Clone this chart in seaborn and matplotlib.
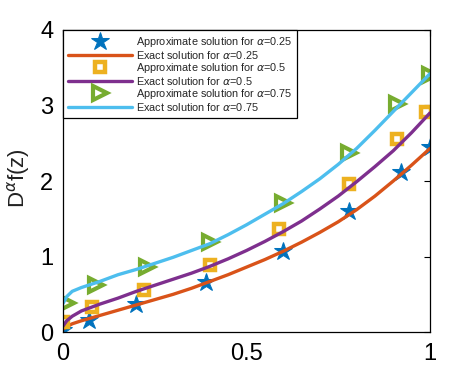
import matplotlib
matplotlib.use("Agg")
import matplotlib.pyplot as plt
import seaborn as sns

# Approximate solution points (markers)
x_approx_025 = [0.0, 0.07, 0.20, 0.39, 0.60, 0.78, 0.92, 1.0]
y_approx_025 = [0.03, 0.16, 0.37, 0.66, 1.08, 1.60, 2.12, 2.45]
x_approx_05 = [0.0, 0.08, 0.22, 0.40, 0.59, 0.78, 0.91, 0.99]
y_approx_05 = [0.13, 0.33, 0.56, 0.89, 1.37, 1.96, 2.55, 2.91]
x_approx_075 = [0.01, 0.09, 0.23, 0.40, 0.60, 0.78, 0.91, 1.0]
y_approx_075 = [0.38, 0.63, 0.86, 1.19, 1.71, 2.37, 3.02, 3.40]

# Exact solution curves
x_exact = [0.0, 0.01, 0.025, 0.05, 0.1, 0.15, 0.2, 0.25, 0.3, 0.35, 0.4, 0.45,
           0.5, 0.55, 0.6, 0.65, 0.7, 0.75, 0.8, 0.85, 0.9, 0.95, 1.0]
y_exact_025 = [0.04, 0.07, 0.11, 0.15, 0.22, 0.29, 0.36, 0.43, 0.50, 0.58, 0.67, 0.76,
               0.86, 0.96, 1.07, 1.19, 1.32, 1.46, 1.62, 1.80, 2.00, 2.21, 2.43]
y_exact_05 = [0.08, 0.15, 0.21, 0.28, 0.37, 0.45, 0.54, 0.62, 0.70, 0.78, 0.87, 0.97,
              1.08, 1.20, 1.33, 1.47, 1.63, 1.80, 1.99, 2.19, 2.40, 2.64, 2.90]
y_exact_075 = [0.38, 0.47, 0.54, 0.59, 0.67, 0.76, 0.83, 0.91, 0.99, 1.08, 1.17, 1.29,
               1.42, 1.56, 1.70, 1.86, 2.03, 2.22, 2.43, 2.67, 2.92, 3.17, 3.42]

labels = [
    r"Approximate solution for $\alpha$=0.25",
    r"Exact solution for $\alpha$=0.25",
    r"Approximate solution for $\alpha$=0.5",
    r"Exact solution for $\alpha$=0.5",
    r"Approximate solution for $\alpha$=0.75",
    r"Exact solution for $\alpha$=0.75",
]

sns.set_theme(style="white")
plt.rcParams['font.family'] = ['Liberation Sans', 'DejaVu Sans']
plt.rcParams['mathtext.fontset'] = 'dejavusans'

fig = plt.figure(figsize=(4.74, 3.74), dpi=100)
ax = fig.add_axes([0.133, 0.112, 0.774, 0.808])

c_blue = "#0072BD"; c_orange = "#D95319"; c_yellow = "#EDB120"
c_purple = "#7E2F8E"; c_green = "#77AC30"; c_lblue = "#4DBEEE"
lw = 2.4

sns.lineplot(x=x_approx_025, y=y_approx_025, ax=ax, marker="*", linestyle="none",
             color=c_blue, markersize=13.5, markeredgecolor=c_blue, label=labels[0])
sns.lineplot(x=x_exact, y=y_exact_025, ax=ax, color=c_orange, linewidth=lw, label=labels[1])
sns.lineplot(x=x_approx_05, y=y_approx_05, ax=ax, marker="s", linestyle="none",
             color=c_yellow, markersize=6.5, markerfacecolor="none",
             markeredgecolor=c_yellow, markeredgewidth=3.2, label=labels[2])
sns.lineplot(x=x_exact, y=y_exact_05, ax=ax, color=c_purple, linewidth=lw, label=labels[3])
sns.lineplot(x=x_approx_075, y=y_approx_075, ax=ax, marker=">", linestyle="none",
             color=c_green, markersize=9.5, markerfacecolor="none",
             markeredgecolor=c_green, markeredgewidth=3.0, label=labels[4])
sns.lineplot(x=x_exact, y=y_exact_075, ax=ax, color=c_lblue, linewidth=lw, label=labels[5])

ax.set_xlim(0, 1)
ax.set_ylim(0, 4)
ax.set_xticks([0, 0.5, 1])
ax.set_xticklabels(["0", "0.5", "1"])
ax.set_yticks([0, 1, 2, 3, 4])
ax.tick_params(direction="in", length=4, width=0.8, colors="black", labelsize=17,
               top=True, right=True, pad=7)
ax.tick_params(axis="x", pad=8)
for s in ax.spines.values():
    s.set_visible(True)
    s.set_color("black")
    s.set_linewidth(0.9)

ax.set_xlabel("")
ax.set_ylabel(r"D$^{\alpha}$f(z)", fontsize=16, color="#222222")
ax.yaxis.set_label_coords(-0.085, 0.51)

leg = ax.legend(loc="upper left", borderaxespad=0, fontsize=7.8, handlelength=5.9,
                labelspacing=0.0, handletextpad=0.35, borderpad=0.45,
                frameon=True, fancybox=False, edgecolor="black", framealpha=1)
leg.get_frame().set_linewidth(0.9)

fig.savefig("out.png", dpi=100)
